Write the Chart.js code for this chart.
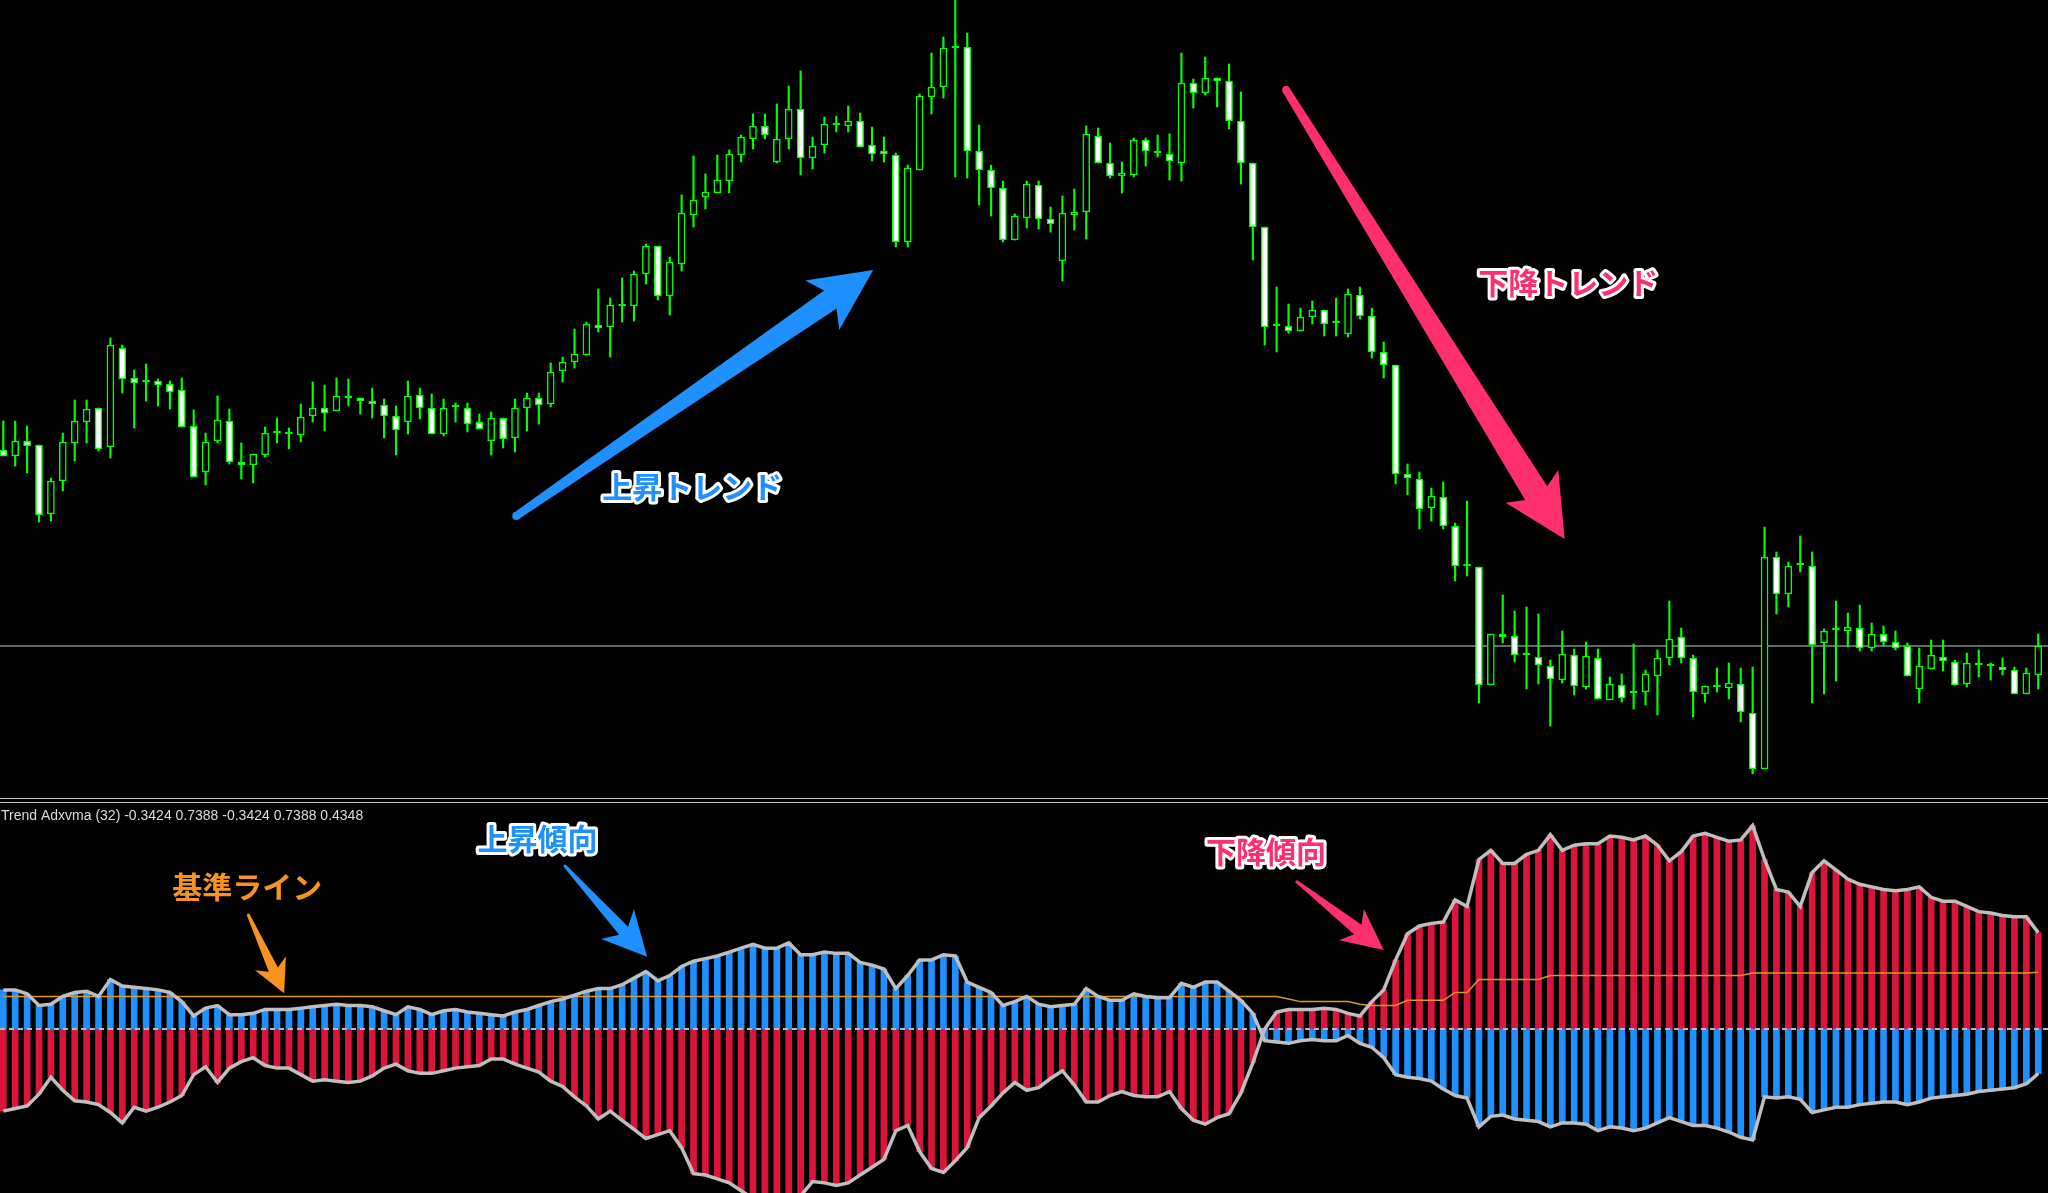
<!DOCTYPE html>
<html lang="ja">
<head>
<meta charset="utf-8">
<title>Trend Adxvma</title>
<script src="https://cdn.jsdelivr.net/npm/chart.js@4.4.1/dist/chart.umd.min.js"></script>
<style>
    html, body { margin: 0; padding: 0; background: #000; }
    #wrap { position: relative; width: 2048px; height: 1193px; overflow: hidden; background: #000; }
    #priceChart { position: absolute; left: 0; top: 0; }
    #indChart { position: absolute; left: 0; top: 804px; }
    .sep { position: absolute; left: 0; width: 2048px; height: 1px; background: #c4c4c4; }
</style>
</head>
<body>
<div id="wrap">
    <canvas id="priceChart" width="2048" height="798"></canvas>
    <div class="sep" style="top:798px"></div>
    <div class="sep" style="top:802px"></div>
    <canvas id="indChart" width="2048" height="389"></canvas>
</div>
<script>
/**
 * MT4 style chart: candles on top, Trend Adxvma histogram below
 */

// Candles (price in points)
const open = [
    350, 344, 359, 355, 286, 319, 357, 378, 392, 353,
    452, 422, 418, 419, 416, 410, 374, 328, 359, 379,
    338, 335, 345, 367, 366, 365, 384, 392, 389, 402,
    402, 399, 395, 384, 378, 405, 392, 366, 393, 392,
    378, 359, 382, 362, 392, 402, 396, 429, 438, 445,
    475, 473, 494, 494, 526, 554, 504, 536, 585, 603,
    607, 619, 645, 661, 674, 638, 661, 691, 642, 655,
    675, 674, 679, 655, 649, 645, 558, 630, 703, 713,
    752, 753, 649, 630, 612, 560, 582, 615, 581, 539,
    585, 588, 664, 637, 624, 625, 660, 647, 646, 637,
    717, 707, 722, 719, 679, 637, 573, 474, 474, 469,
    483, 490, 477, 466, 505, 484, 448, 435, 326, 321,
    292, 303, 274, 234, 233, 115, 166, 164, 145, 143,
    134, 120, 145, 113, 142, 100, 115, 107, 108, 124,
    142, 163, 142, 106, 113, 112, 116, 87, 31, 243,
    206, 235, 234, 157, 170, 169, 172, 152, 166, 158,
    154, 111, 131, 143, 138, 116, 135, 134, 133, 130,
    106, 125
];
const high = [
    379, 379, 374, 355, 322, 367, 400, 400, 392, 462,
    455, 430, 436, 421, 419, 422, 390, 367, 404, 391,
    357, 346, 373, 382, 372, 396, 418, 415, 422, 421,
    402, 412, 401, 394, 419, 412, 406, 401, 397, 397,
    386, 388, 382, 401, 407, 407, 437, 443, 471, 478,
    511, 502, 522, 529, 556, 554, 543, 605, 644, 626,
    645, 650, 665, 686, 686, 696, 714, 729, 663, 683,
    684, 694, 687, 673, 663, 647, 635, 706, 747, 763,
    800, 767, 675, 635, 619, 586, 619, 619, 593, 604,
    611, 674, 672, 657, 638, 662, 662, 665, 666, 747,
    721, 743, 722, 736, 708, 637, 573, 513, 496, 492,
    499, 490, 502, 511, 513, 492, 458, 435, 336, 328,
    312, 318, 277, 299, 233, 166, 205, 189, 193, 186,
    140, 169, 151, 158, 151, 123, 126, 156, 130, 150,
    199, 172, 145, 114, 132, 137, 132, 133, 273, 248,
    238, 264, 248, 171, 199, 187, 195, 177, 174, 169,
    157, 152, 160, 160, 140, 147, 150, 137, 142, 133,
    132, 166
];
const low = [
    344, 334, 327, 278, 279, 309, 339, 357, 349, 342,
    407, 372, 399, 394, 391, 373, 323, 315, 357, 336,
    321, 317, 343, 357, 351, 358, 378, 369, 389, 394,
    386, 382, 362, 345, 366, 381, 366, 364, 378, 368,
    371, 345, 352, 348, 369, 376, 393, 418, 432, 445,
    468, 443, 478, 479, 516, 500, 485, 529, 573, 591,
    607, 607, 638, 651, 661, 637, 651, 625, 631, 647,
    668, 668, 653, 639, 638, 553, 553, 630, 686, 702,
    623, 622, 595, 584, 558, 560, 572, 571, 568, 519,
    570, 561, 637, 622, 607, 623, 634, 643, 620, 619,
    692, 705, 693, 671, 616, 540, 455, 448, 467, 469,
    476, 464, 464, 463, 481, 442, 422, 316, 305, 271,
    279, 271, 219, 224, 97, 115, 157, 138, 111, 116,
    74, 117, 105, 111, 101, 100, 98, 91, 95, 85,
    135, 137, 83, 98, 108, 101, 78, 26, 31, 186,
    193, 228, 97, 106, 119, 153, 149, 149, 154, 150,
    124, 97, 131, 129, 115, 113, 123, 120, 125, 106,
    106, 111
];
const close = [
    344, 359, 354, 285, 319, 358, 379, 391, 351, 455,
    421, 417, 418, 415, 408, 373, 323, 358, 380, 338,
    335, 346, 367, 367, 366, 383, 392, 387, 404, 402,
    399, 396, 384, 370, 404, 392, 366, 392, 393, 376,
    371, 382, 361, 392, 402, 395, 428, 438, 446, 476,
    472, 495, 494, 526, 554, 504, 538, 587, 600, 608,
    620, 646, 663, 674, 665, 661, 691, 642, 654, 676,
    675, 679, 653, 646, 646, 558, 632, 704, 713, 752,
    752, 649, 630, 612, 560, 584, 616, 581, 576, 587,
    588, 666, 637, 624, 627, 660, 649, 647, 639, 717,
    707, 722, 719, 679, 637, 573, 473, 474, 469, 483,
    490, 476, 477, 506, 484, 448, 435, 326, 322, 291,
    304, 274, 234, 234, 115, 166, 163, 145, 145, 135,
    121, 146, 114, 144, 101, 116, 102, 107, 126, 142,
    161, 142, 108, 114, 113, 117, 88, 31, 243, 206,
    234, 235, 155, 169, 170, 173, 152, 166, 158, 152,
    124, 134, 145, 139, 115, 137, 135, 134, 130, 106,
    127, 154
];

// Trend Adxvma (32) buffers
const adxUp = [
    0.30, 0.30, 0.27, 0.18, 0.19, 0.25, 0.28, 0.29, 0.25, 0.38,
    0.33, 0.32, 0.31, 0.30, 0.28, 0.21, 0.10, 0.16, 0.18, 0.11,
    0.11, 0.12, 0.15, 0.15, 0.15, 0.16, 0.17, 0.18, 0.19, 0.18,
    0.18, 0.17, 0.14, 0.11, 0.17, 0.15, 0.11, 0.14, 0.15, 0.13,
    0.12, 0.11, 0.10, 0.13, 0.15, 0.18, 0.21, 0.23, 0.26, 0.29,
    0.31, 0.31, 0.34, 0.39, 0.44, 0.37, 0.41, 0.48, 0.52, 0.54,
    0.56, 0.59, 0.62, 0.65, 0.62, 0.62, 0.66, 0.57, 0.57, 0.59,
    0.58, 0.58, 0.51, 0.49, 0.46, 0.31, 0.41, 0.53, 0.53, 0.57,
    0.56, 0.36, 0.32, 0.28, 0.18, 0.21, 0.25, 0.19, 0.17, 0.18,
    0.19, 0.31, 0.25, 0.22, 0.22, 0.27, 0.25, 0.24, 0.24, 0.35,
    0.32, 0.36, 0.36, 0.29, 0.22, 0.12, -0.09, -0.10, -0.11, -0.09,
    -0.08, -0.09, -0.09, -0.05, -0.11, -0.14, -0.22, -0.35, -0.37, -0.38,
    -0.40, -0.46, -0.51, -0.53, -0.75, -0.67, -0.66, -0.69, -0.70, -0.71,
    -0.75, -0.72, -0.72, -0.73, -0.78, -0.75, -0.76, -0.78, -0.76, -0.72,
    -0.68, -0.71, -0.74, -0.74, -0.76, -0.79, -0.83, -0.85, -0.52, -0.53,
    -0.52, -0.54, -0.64, -0.62, -0.60, -0.60, -0.58, -0.57, -0.56, -0.56,
    -0.58, -0.56, -0.53, -0.52, -0.51, -0.50, -0.48, -0.47, -0.46, -0.45,
    -0.42, -0.3424
];
const adxDown = [
    -0.63, -0.61, -0.59, -0.50, -0.37, -0.47, -0.55, -0.56, -0.58, -0.64,
    -0.72, -0.60, -0.63, -0.60, -0.56, -0.51, -0.35, -0.29, -0.41, -0.30,
    -0.25, -0.22, -0.28, -0.30, -0.30, -0.35, -0.40, -0.39, -0.40, -0.41,
    -0.40, -0.36, -0.30, -0.27, -0.32, -0.34, -0.34, -0.32, -0.30, -0.29,
    -0.28, -0.23, -0.23, -0.27, -0.30, -0.33, -0.40, -0.44, -0.52, -0.59,
    -0.69, -0.63, -0.70, -0.77, -0.84, -0.81, -0.78, -0.91, -1.11, -1.12,
    -1.15, -1.18, -1.24, -1.30, -1.35, -1.37, -1.35, -1.28, -1.17, -1.18,
    -1.20, -1.18, -1.12, -1.06, -1.00, -0.78, -0.74, -0.94, -1.07, -1.10,
    -1.01, -0.91, -0.68, -0.59, -0.49, -0.41, -0.47, -0.45, -0.38, -0.32,
    -0.43, -0.56, -0.56, -0.51, -0.48, -0.51, -0.52, -0.52, -0.48, -0.61,
    -0.70, -0.73, -0.68, -0.65, -0.49, -0.26, 0.00, 0.13, 0.15, 0.15,
    0.15, 0.16, 0.15, 0.12, 0.10, 0.21, 0.30, 0.53, 0.73, 0.79,
    0.81, 0.82, 0.99, 0.94, 1.30, 1.37, 1.27, 1.27, 1.34, 1.37,
    1.49, 1.37, 1.41, 1.42, 1.42, 1.48, 1.47, 1.45, 1.48, 1.41,
    1.29, 1.36, 1.48, 1.50, 1.47, 1.44, 1.45, 1.56, 1.30, 1.07,
    1.05, 0.94, 1.20, 1.29, 1.22, 1.15, 1.11, 1.09, 1.07, 1.06,
    1.07, 1.09, 1.01, 0.98, 0.98, 0.94, 0.90, 0.89, 0.87, 0.86,
    0.86, 0.7388
];
const baseLine = [
    0.25, 0.25, 0.25, 0.25, 0.25, 0.25, 0.25, 0.25, 0.25, 0.25, 0.25, 0.25,
    0.25, 0.25, 0.25, 0.25, 0.25, 0.25, 0.25, 0.25, 0.25, 0.25, 0.25, 0.25,
    0.25, 0.25, 0.25, 0.25, 0.25, 0.25, 0.25, 0.25, 0.25, 0.25, 0.25, 0.25,
    0.25, 0.25, 0.25, 0.25, 0.25, 0.25, 0.25, 0.25, 0.25, 0.25, 0.25, 0.25,
    0.25, 0.25, 0.25, 0.25, 0.25, 0.25, 0.25, 0.25, 0.25, 0.25, 0.25, 0.25,
    0.25, 0.25, 0.25, 0.25, 0.25, 0.25, 0.25, 0.25, 0.25, 0.25, 0.25, 0.25,
    0.25, 0.25, 0.25, 0.25, 0.25, 0.25, 0.25, 0.25, 0.25, 0.25, 0.25, 0.25,
    0.25, 0.25, 0.25, 0.25, 0.25, 0.25, 0.25, 0.25, 0.25, 0.25, 0.25, 0.25,
    0.25, 0.25, 0.25, 0.25, 0.25, 0.25, 0.25, 0.25, 0.25, 0.25, 0.25, 0.25,
    0.23, 0.21, 0.21, 0.21, 0.21, 0.21, 0.19, 0.18, 0.18, 0.18,
    0.22, 0.22, 0.22, 0.22, 0.28, 0.28, 0.38, 0.38, 0.38, 0.38, 0.38, 0.38,
    0.41, 0.41, 0.41, 0.41, 0.41, 0.41, 0.41, 0.41, 0.41, 0.41,
    0.41, 0.41, 0.41, 0.41, 0.41, 0.41, 0.41,
    0.43, 0.43, 0.43, 0.43, 0.43, 0.43, 0.43, 0.43, 0.43, 0.43, 0.43, 0.43,
    0.43, 0.43, 0.43, 0.43, 0.43, 0.43, 0.43, 0.43, 0.43, 0.43, 0.43, 0.43,
    0.4348
];

const INDICATOR_NAME = 'Trend Adxvma (32)';

// Annotations, placed in data units: [bar index, value]
const priceArrows = [
    { from: [43.1, 284], to: [73.1, 530], color: '#1e90ff', w0: 4, w1: 11, head: 62, neck: 52, half: 30 },
    { from: [107.8, 710], to: [131.2, 261], color: '#ff2f6e', w0: 4, w1: 13, head: 62, neck: 54, half: 31 }
];
const priceLabels = [
    { text: '上昇トレンド', at: [57.9, 313], color: '#1e90ff', outline: true },
    { text: '下降トレンド', at: [131.5, 517], color: '#ff2f6e', outline: true }
];
const indArrows = [
    { from: [20.6, 0.874], to: [23.6, 0.274], color: '#f7931e', w0: 1.5, w1: 5, head: 33, neck: 26, half: 17 },
    { from: [47.2, 1.25], to: [54.1, 0.554], color: '#1e90ff', w0: 1.5, w1: 6, head: 44, neck: 35, half: 22 },
    { from: [108.7, 1.13], to: [116.0, 0.606], color: '#ff2f6e', w0: 1.5, w1: 6, head: 41, neck: 33, half: 20 }
];
const indLabels = [
    { text: '基準ライン', at: [20.5, 1.089], color: '#f7931e', outline: false },
    { text: '上昇傾向', at: [44.9, 1.457], color: '#1e90ff', outline: true },
    { text: '下降傾向', at: [106.1, 1.357], color: '#ff2f6e', outline: true }
];

// Visible ranges
const X_MIN = -0.277;
const X_MAX = 171.82;
const PRICE_MIN = 2;
const PRICE_MAX = 800;
const IND_MIN = -1.2577;
const IND_MAX = 1.7255;

const GREEN = '#00ff00';

function drawArrow(ctx, x0, y0, x1, y1, a) {
    const dx = x1 - x0, dy = y1 - y0;
    const len = Math.hypot(dx, dy);
    const ux = dx / len, uy = dy / len;
    const nx = -uy, ny = ux;
    const pt = (d, h) => [x0 + ux * d + nx * h, y0 + uy * d + ny * h];
    const pts = [
        pt(0, a.w0), pt(len - a.neck, a.w1), pt(len - a.head, a.half), pt(len, 0),
        pt(len - a.head, -a.half), pt(len - a.neck, -a.w1), pt(0, -a.w0)
    ];
    ctx.save();
    ctx.fillStyle = a.color;
    ctx.beginPath();
    pts.forEach((p, i) => (i ? ctx.lineTo(p[0], p[1]) : ctx.moveTo(p[0], p[1])));
    ctx.closePath();
    ctx.fill();
    ctx.beginPath();
    ctx.arc(x0, y0, a.w0, 0, Math.PI * 2);
    ctx.fill();
    ctx.restore();
}

function drawLabel(ctx, x, y, l) {
    ctx.save();
    ctx.font = 'bold 30px "Noto Sans CJK JP"';
    ctx.textAlign = 'center';
    ctx.textBaseline = 'middle';
    if (l.outline) {
        ctx.lineJoin = 'round';
        ctx.lineWidth = 6;
        ctx.strokeStyle = '#ffffff';
        ctx.strokeText(l.text, x, y);
    }
    ctx.fillStyle = l.color;
    ctx.fillText(l.text, x, y);
    ctx.restore();
}

function drawNotes(chart, arrows, labels) {
    const ctx = chart.ctx;
    const xs = chart.scales.x, ys = chart.scales.y;
    arrows.forEach(a => drawArrow(ctx,
        xs.getPixelForValue(a.from[0]), ys.getPixelForValue(a.from[1]),
        xs.getPixelForValue(a.to[0]), ys.getPixelForValue(a.to[1]), a));
    labels.forEach(l => drawLabel(ctx, xs.getPixelForValue(l.at[0]), ys.getPixelForValue(l.at[1]), l));
}

const pricePlugin = {
    id: 'priceNotes',
    beforeDatasetsDraw(chart) {
        // bid line at last close
        const ctx = chart.ctx;
        const y = chart.scales.y.getPixelForValue(close[close.length - 1]);
        ctx.save();
        ctx.strokeStyle = '#7f8c99';
        ctx.lineWidth = 1.5;
        ctx.beginPath();
        ctx.moveTo(0, y);
        ctx.lineTo(chart.width, y);
        ctx.stroke();
        ctx.restore();
    },
    afterDatasetsDraw(chart) {
        drawNotes(chart, priceArrows, priceLabels);
    }
};

const indPlugin = {
    id: 'indNotes',
    afterDatasetsDraw(chart) {
        const ctx = chart.ctx;
        const y0 = chart.scales.y.getPixelForValue(0);
        ctx.save();
        ctx.strokeStyle = '#b8b8b8';
        ctx.lineWidth = 2;
        ctx.setLineDash([5, 4]);
        ctx.beginPath();
        ctx.moveTo(0, y0);
        ctx.lineTo(chart.width, y0);
        ctx.stroke();
        ctx.restore();

        drawNotes(chart, indArrows, indLabels);

        // indicator header
        const last = adxUp.length - 1;
        const fmt = v => v.toFixed(4);
        const header = [INDICATOR_NAME, fmt(adxUp[last]), fmt(adxDown[last]),
            fmt(adxUp[last]), fmt(adxDown[last]), fmt(baseLine[last])].join(' ');
        ctx.save();
        ctx.font = '14px "Liberation Sans"';
        ctx.fillStyle = '#dcdcdc';
        ctx.textBaseline = 'middle';
        ctx.fillText(header, 1, 12);
        ctx.restore();
    }
};

const xAxis = { type: 'linear', min: X_MIN, max: X_MAX, offset: false, display: false };

// Price chart
new Chart(document.getElementById('priceChart'), {
    type: 'bar',
    data: {
        datasets: [
            {
                label: 'body',
                data: open.map((o, i) => ({ x: i, y: [Math.min(o, close[i]), Math.max(o, close[i])] })),
                backgroundColor: open.map((o, i) => close[i] < o ? '#ffffff' : (close[i] > o ? '#000000' : GREEN)),
                borderColor: GREEN,
                borderWidth: 1.5,
                borderSkipped: false,
                barThickness: 7,
                minBarLength: 2,
                grouped: false,
                order: 0
            },
            {
                label: 'wick',
                data: open.map((o, i) => ({ x: i, y: [low[i], high[i]] })),
                backgroundColor: GREEN,
                borderWidth: 0,
                barThickness: 1.5,
                minBarLength: 1,
                grouped: false,
                order: 1
            }
        ]
    },
    options: {
        responsive: false,
        animation: false,
        devicePixelRatio: 1,
        layout: { padding: 0 },
        plugins: { legend: { display: false }, tooltip: { enabled: false } },
        scales: {
            x: xAxis,
            y: { type: 'linear', min: PRICE_MIN, max: PRICE_MAX, display: false }
        }
    },
    plugins: [pricePlugin]
});

// Indicator chart
const pts = arr => arr.map((v, i) => ({ x: i, y: v }));
new Chart(document.getElementById('indChart'), {
    type: 'bar',
    data: {
        datasets: [
            { type: 'line', data: pts(adxUp), borderColor: '#bebebe', borderWidth: 3.5, pointRadius: 0, order: 0 },
            { type: 'line', data: pts(adxDown), borderColor: '#bebebe', borderWidth: 3.5, pointRadius: 0, order: 0 },
            { type: 'line', data: pts(baseLine), borderColor: '#d99a1f', borderWidth: 1.5, pointRadius: 0, order: 1 },
            { data: pts(adxUp), backgroundColor: '#1e90ff', barThickness: 6, grouped: false, order: 2 },
            { data: pts(adxDown), backgroundColor: '#dc143c', barThickness: 6, grouped: false, order: 2 }
        ]
    },
    options: {
        responsive: false,
        animation: false,
        devicePixelRatio: 1,
        layout: { padding: 0 },
        plugins: { legend: { display: false }, tooltip: { enabled: false } },
        scales: {
            x: xAxis,
            y: { type: 'linear', min: IND_MIN, max: IND_MAX, display: false }
        }
    },
    plugins: [indPlugin]
});
</script>
</body>
</html>
